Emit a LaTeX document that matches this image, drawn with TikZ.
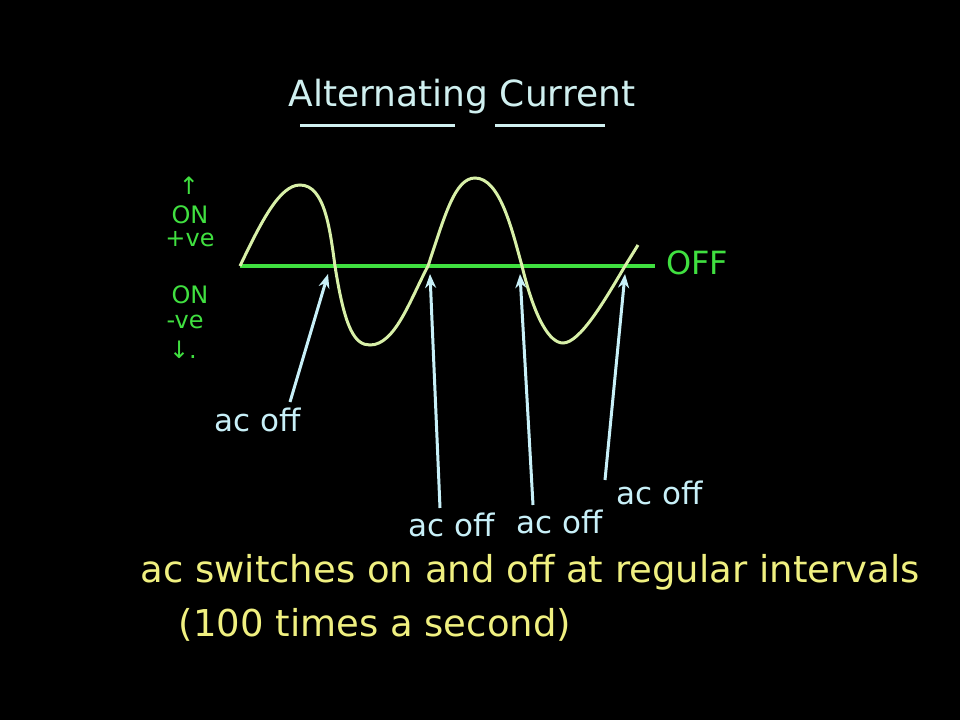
\documentclass[tikz,border=0pt]{standalone}
\usepackage{fontspec}
\setmainfont{DejaVu Sans}
\usetikzlibrary{arrows.meta}
\definecolor{tblue}{HTML}{D0F0F0}
\definecolor{lblue}{HTML}{C8F0F8}
\definecolor{wave}{HTML}{D8F0A8}
\definecolor{gr}{HTML}{40E040}
\definecolor{yel}{HTML}{F0F080}
\tikzset{lab/.style={text=lblue,font=\fontsize{31}{34}\selectfont,inner sep=0pt},
 glab/.style={text=gr,font=\fontsize{24}{26}\selectfont,inner sep=0pt},
 ptr/.style={lblue,line width=3pt,-{Stealth[length=14pt,width=11pt]}},
 ylab/.style={text=yel,font=\fontsize{37}{40}\selectfont,inner sep=0pt}}
\begin{document}
\begin{tikzpicture}[x=1pt,y=-1pt]
\fill[black] (0,0) rectangle (960,720);
\useasboundingbox (0,0) rectangle (960,720);
\node[text=tblue,font=\fontsize{36}{40}\selectfont,inner sep=0pt] (title) at (462,97) {Alternating Current};
\coordinate (u1) at (300,125); \coordinate (u2) at (455,125);
\coordinate (u3) at (495,125); \coordinate (u4) at (605,125);
\draw[tblue,line width=3pt] (u1)--(u2) (u3)--(u4);
\coordinate (a0) at (240,266); \coordinate (a1) at (655,266);
\draw[gr,line width=4pt] (a0)--(a1);
\node[text=gr,font=\fontsize{32}{34}\selectfont,inner sep=0pt] (off) at (697,263) {OFF};
\draw[wave,line width=3pt] (240,266) .. controls (262,220) and (280,185) .. (300,185)
 .. controls (325,185) and (330,230) .. (335,266)
 .. controls (345,330) and (355,345) .. (370,345)
 .. controls (395,345) and (410,300) .. (428,266)
 .. controls (445,215) and (455,178) .. (475,178)
 .. controls (500,178) and (512,230) .. (522,266)
 .. controls (535,320) and (550,343) .. (563,343)
 .. controls (580,343) and (605,300) .. (625,266)
 -- (638,245);
\node[glab] (g0) at (189,186) {↑};
\node[glab] (g1) at (190,215) {ON};
\node[glab] (g2) at (190,239) {+ve};
\node[glab] (g3) at (190,295) {ON};
\node[glab] (g4) at (185,322) {-ve};
\node[glab] (g5) at (183,350) {↓.};
\node[lab] (l1) at (258,420) {ac off};
\node[lab] (l2) at (452,525) {ac off};
\node[lab] (l3) at (560,522) {ac off};
\node[lab] (l4) at (660,493) {ac off};
\coordinate (z1) at (328,274); \coordinate (z2) at (430,274);
\coordinate (z3) at (520,274); \coordinate (z4) at (625,274);
\draw[ptr] (290,402) -- (z1);
\draw[ptr] (440,508) -- (z2);
\draw[ptr] (533,505) -- (z3);
\draw[ptr] (605,480) -- (z4);
\node[ylab] (b1) at (530,572) {ac switches on and off at regular intervals};
\node[ylab] (b2) at (375,625) {(100 times a second)};
\end{tikzpicture}
\end{document}
